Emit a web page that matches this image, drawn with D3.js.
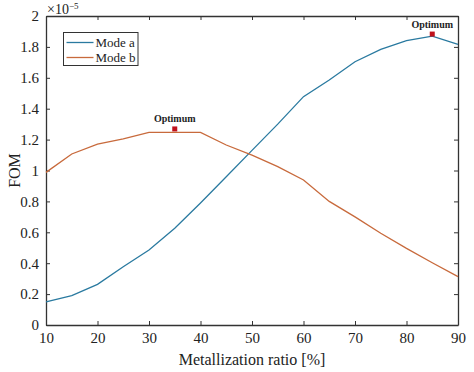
<!DOCTYPE html>
<html>
<head>
<meta charset="utf-8">
<script src="https://cdn.jsdelivr.net/npm/d3@7"></script>
<style>
  body { margin: 0; background: #fff; }
</style>
</head>
<body>
<div id="chart"></div>
<script>
const ratios = [10, 15, 20, 25, 30, 35, 40, 45, 50, 55, 60, 65, 70, 75, 80, 85, 90];
const modeA = [0.15, 0.19, 0.263, 0.377, 0.485, 0.626, 0.79, 0.96, 1.13, 1.30, 1.478, 1.586, 1.704, 1.784, 1.84, 1.87, 1.817];
const modeB = [0.988, 1.107, 1.171, 1.204, 1.247, 1.247, 1.247, 1.165, 1.10, 1.025, 0.939, 0.80, 0.70, 0.594, 0.496, 0.403, 0.313];
const optima = [{ x: 85, y: 1.883 }, { x: 35, y: 1.269 }];
const xTicks = [10, 20, 30, 40, 50, 60, 70, 80, 90];
const yTicks = [0, 0.2, 0.4, 0.6, 0.8, 1, 1.2, 1.4, 1.6, 1.8, 2];
const seriesNames = ["Mode a", "Mode b"];
const colors = ["#2a7aa0", "#c86a3c"];

const serif = "Liberation Serif";
const width = 474, height = 372;
const margin = { top: 16, right: 16, bottom: 47, left: 46 };
const svg = d3.select("#chart").append("svg")
    .attr("width", width)
    .attr("height", height)
    .attr("font-family", serif);

const x = d3.scaleLinear().domain([10, 90]).range([margin.left, width - margin.right]);
const y = d3.scaleLinear().domain([0, 2]).range([height - margin.bottom, margin.top]);

const fmt = d => d3.format("~g")(d);

// axes with inward ticks, boxed
svg.append("g")
    .attr("transform", `translate(0,${y(0)})`)
    .call(d3.axisBottom(x).tickValues(xTicks).tickSizeInner(-4).tickSizeOuter(0).tickPadding(7).tickFormat(fmt));
svg.append("g")
    .attr("transform", `translate(${x(10)},0)`)
    .call(d3.axisLeft(y).tickValues(yTicks).tickSizeInner(-4).tickSizeOuter(0).tickPadding(7).tickFormat(fmt));
svg.append("g")
    .attr("transform", `translate(0,${y(2)})`)
    .call(d3.axisTop(x).tickValues(xTicks).tickSizeInner(-4).tickSizeOuter(0).tickFormat(""));
svg.append("g")
    .attr("transform", `translate(${x(90)},0)`)
    .call(d3.axisRight(y).tickValues(yTicks).tickSizeInner(-4).tickSizeOuter(0).tickFormat(""));

svg.selectAll("g").attr("font-family", serif);
svg.selectAll(".domain").attr("stroke", "#333").attr("stroke-width", 1.3);
svg.selectAll(".tick line").attr("stroke", "#333");
svg.selectAll(".tick text").attr("font-size", 15).attr("fill", "#222");

// lines
const line = d3.line().x((d, i) => x(ratios[i])).y(d => y(d));
[modeA, modeB].forEach((s, k) => {
    svg.append("path")
        .datum(s)
        .attr("fill", "none")
        .attr("stroke", colors[k])
        .attr("stroke-width", 1.3)
        .attr("d", line);
});

// optimum markers
optima.forEach(o => {
    svg.append("rect")
        .attr("x", x(o.x) - 2.5)
        .attr("y", y(o.y) - 2.5)
        .attr("width", 5)
        .attr("height", 5)
        .attr("fill", "#c0121c");
    svg.append("text")
        .attr("x", x(o.x))
        .attr("y", y(o.y) - 6.5)
        .attr("text-anchor", "middle")
        .attr("font-size", 10)
        .attr("font-weight", "bold")
        .attr("fill", "#222")
        .text("Optimum");
});

// exponent
const expo = svg.append("text")
    .attr("x", x(10) + 1)
    .attr("y", 14)
    .attr("font-size", 14)
    .attr("fill", "#222");
expo.append("tspan").text("\u00d710");
expo.append("tspan").attr("dy", -5).attr("font-size", 9).text("\u22125");

// axis labels
svg.append("text")
    .attr("x", (x(10) + x(90)) / 2)
    .attr("y", 365)
    .attr("text-anchor", "middle")
    .attr("font-size", 16)
    .attr("fill", "#222")
    .text("Metallization ratio [%]");
svg.append("text")
    .attr("transform", `translate(20,${(y(0) + y(2)) / 2}) rotate(-90)`)
    .attr("text-anchor", "middle")
    .attr("font-size", 16)
    .attr("fill", "#222")
    .text("FOM");

// legend
const lg = svg.append("g").attr("transform", "translate(63.5,32.5)");
lg.append("rect")
    .attr("width", 74.5).attr("height", 33)
    .attr("fill", "#fff").attr("stroke", "#333").attr("stroke-width", 1);
seriesNames.forEach((n, i) => {
    lg.append("line")
        .attr("x1", 3).attr("x2", 30)
        .attr("y1", 10 + i * 15).attr("y2", 10 + i * 15)
        .attr("stroke", colors[i]).attr("stroke-width", 1.3);
    lg.append("text")
        .attr("x", 32).attr("y", 14.5 + i * 15)
        .attr("font-size", 13)
        .attr("fill", "#222")
        .text(n);
});
</script>
</body>
</html>
